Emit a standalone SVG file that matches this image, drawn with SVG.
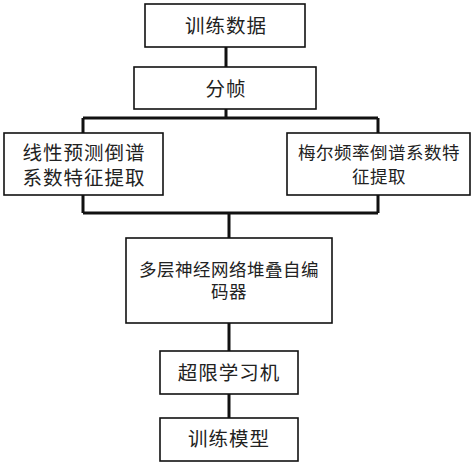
<svg xmlns="http://www.w3.org/2000/svg" width="474" height="463" viewBox="0 0 474 463">
<style>
.box{fill:#fff;stroke:#111;stroke-width:1.6}
.t{font-family:"Liberation Sans","Noto Sans CJK SC",sans-serif;font-size:19.5px;fill:#222;text-anchor:middle;dominant-baseline:central;letter-spacing:1px}
.s{font-size:17.5px;letter-spacing:0.5px}
.c{fill:none;stroke:#111;stroke-width:3}
</style>
<rect width="474" height="463" fill="#fff"/>
<g id="connectors">
<path class="c" d="M226 47V67"/>
<path class="c" d="M226 109V118M83 118H378M83 118V133M378 118V133"/>
<path class="c" d="M83 195V213M378 195V213M83 213H378M229 213V238"/>
<path class="c" d="M229 323V351"/>
<path class="c" d="M229 394V418"/>
</g>
<g id="n1"><rect class="box" x="145" y="4" width="160" height="43"/><text class="t" x="226" y="26">训练数据</text></g>
<g id="n2"><rect class="box" x="134" y="67" width="182" height="42"/><text class="t" x="226" y="89">分帧</text></g>
<g id="n3"><rect class="box" x="4" y="133" width="159" height="62"/><text class="t" x="84" y="153">线性预测倒谱<tspan x="84" dy="25">系数特征提取</tspan></text></g>
<g id="n4"><rect class="box" x="287" y="133" width="183" height="62"/><text class="t s" x="379" y="153">梅尔频率倒谱系数特<tspan x="379" dy="24">征提取</tspan></text></g>
<g id="n5"><rect class="box" x="126" y="238" width="206" height="85"/><text class="t s" x="229" y="270">多层神经网络堆叠自编<tspan x="229" dy="22">码器</tspan></text></g>
<g id="n6"><rect class="box" x="160" y="351" width="138" height="43"/><text class="t" x="229" y="373">超限学习机</text></g>
<g id="n7"><rect class="box" x="160" y="418" width="138" height="43"/><text class="t" x="229" y="439">训练模型</text></g>
</svg>
